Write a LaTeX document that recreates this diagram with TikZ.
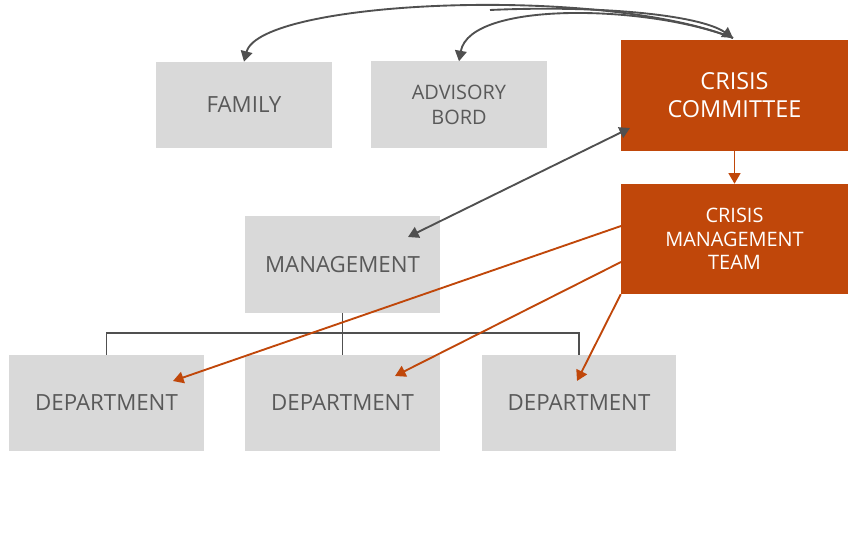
\documentclass[tikz,border=0pt]{standalone}
\usepackage{fontspec}
\setmainfont{Open Sans}
\usetikzlibrary{arrows.meta}
\definecolor{boxgray}{HTML}{D9D9D9}
\definecolor{txtgray}{HTML}{595959}
\definecolor{crisis}{HTML}{C0470A}
\definecolor{linegray}{HTML}{505050}
\begin{document}
\begin{tikzpicture}[x=0.03cm,y=-0.03cm]
            \tikzstyle{grey}=[fill=boxgray,text=txtgray,align=center,font=\fontsize{19}{22}\selectfont]
            \tikzstyle{red}=[fill=crisis,text=white,align=center]
            \tikzset{edge/.style = {-{Triangle[length=9pt,width=10pt]},line width=1.6pt}}
            \useasboundingbox (0,0) rectangle (849,542);
            \node[grey,minimum width=176*0.03cm,minimum height=86*0.03cm] (family) at (244,105) {FAMILY};
            \node[grey,minimum width=176*0.03cm,minimum height=87*0.03cm,font=\fontsize{17}{21}\selectfont] (advisory) at (459,105) {ADVISORY\\BORD};
            \node[red,minimum width=227*0.03cm,minimum height=111*0.03cm,font=\fontsize{20}{24}\selectfont] (committee) at (734.5,95.5) {CRISIS\\COMMITTEE};
            \node[red,minimum width=227*0.03cm,minimum height=110*0.03cm,font=\fontsize{17}{20}\selectfont] (team) at (734.5,239) {CRISIS\\MANAGEMENT\\TEAM};
            \node[grey,minimum width=195*0.03cm,minimum height=97*0.03cm] (management) at (342.5,264.5) {MANAGEMENT};
            \node[grey,minimum width=195*0.03cm,minimum height=96*0.03cm] (dep1) at (106.5,403) {DEPARTMENT};
            \node[grey,minimum width=195*0.03cm,minimum height=96*0.03cm] (dep2) at (342.5,403) {DEPARTMENT};
            \node[grey,minimum width=194*0.03cm,minimum height=96*0.03cm] (dep3) at (579,403) {DEPARTMENT};
            % tree
            \coordinate (split) at (342.5,333);
            \draw[linegray,line width=1pt] (management.south) -- (split);
            \draw[linegray,line width=1pt] (dep1.north) |- (split) -| (dep3.north);
            \draw[linegray,line width=1pt] (split) -- (dep2.north);
            % links
            \coordinate (top) at (733,38);
            \draw[edge,linegray] (top) .. controls (600,-15) and (260,0) .. (family.north);
            \draw[edge,linegray] (top) .. controls (650,5) and (470,0) .. (advisory.north);
            \draw[edge,linegray] (490,10) .. controls (600,5) and (700,15) .. (top);
            \draw[edge,linegray,{Triangle[length=9pt,width=10pt]}-{Triangle[length=9pt,width=10pt]}] (630,128) -- (408,237);
            \draw[edge,crisis] (committee.south) -- (team.north);
            \draw[edge,crisis] (621,226) -- (173,381);
            \draw[edge,crisis] (621,262) -- (395,376);
            \draw[edge,crisis] (team.south west) -- (577,381);
        \end{tikzpicture}
\end{document}
